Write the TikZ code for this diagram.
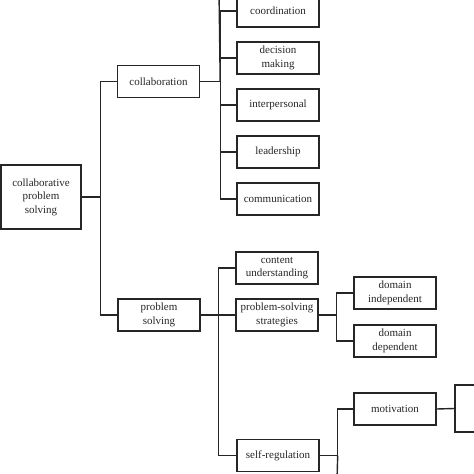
\documentclass[tikz,border=0pt]{standalone}
\usepackage{fontspec}
\setmainfont{Liberation Serif}
\usetikzlibrary{positioning}
\definecolor{inkgray}{HTML}{262626}
\tikzset{
  box/.style={draw=inkgray, line width=1.4pt, minimum width=82pt, minimum height=32pt,
    inner sep=1pt, align=center, text=inkgray, font=\fontsize{11}{13.5}\selectfont},
  link/.style={draw=inkgray, line width=1.4pt},
}

\begin{document}
\begin{tikzpicture}[x=1pt,y=-1pt]
\useasboundingbox (0,0) rectangle (474,474);

% ===== Root =====
\node[box, minimum width=80pt, minimum height=64pt] (cps) at (41,197) {collaborative\\problem\\solving};

% ===== Level 1 =====
\node[box] (collab) at (158.5,81.5) {collaboration};
\node[box] (probsolv) at (159,315) {problem\\solving};

\coordinate (busA) at ([xshift=19pt]cps.east);
\draw[link] (cps.east) -- (busA);
\draw[link] (busA) |- (collab.west);
\draw[link] (busA) |- (probsolv.west);

% ===== Collaboration branch =====
\foreach \name/\y/\txt in {coord/11/coordination, decis/58/{decision\\making},
    inter/105/interpersonal, lead/152/leadership, comm/199/communication}
  \node[box] (\name) at (278,\y) {\txt};

\coordinate (busB) at ([xshift=20pt]collab.east);
\coordinate (busBtop) at (219,-10);
\draw[link] (collab.east) -- (busB);
\draw[link] (busB) -- (busBtop);
\foreach \name in {coord,decis,inter,lead,comm}
  \draw[link] (busB) |- (\name.west);

% ===== Problem solving branch =====
\node[box] (content) at (277,268) {content\\understanding};
\node[box] (pss) at (277,315) {problem-solving\\strategies};
\node[box] (selfreg) at (278,455.5) {self-regulation};

\coordinate (busC) at ([xshift=18pt]probsolv.east);
\draw[link] (probsolv.east) -- (pss.west);
\foreach \name in {content,selfreg}
  \draw[link] (busC) |- (\name.west);

% Strategies
\node[box] (domind) at (395,293) {domain\\independent};
\node[box] (domdep) at (395,341) {domain\\dependent};

\coordinate (busD) at ([xshift=18pt]pss.east);
\draw[link] (pss.east) -- (busD);
\draw[link] (busD) |- (domind.west);
\draw[link] (busD) |- (domdep.west);

% Self-regulation
\node[box] (motiv) at (395,409) {motivation};
\node[box, minimum height=47pt] (nextbox) at (496,408.5) {};

\coordinate (busE) at ([xshift=18pt]selfreg.east);
\coordinate (busEbot) at (337,480);
\draw[link] (selfreg.east) -- (busE);
\draw[link] (busE) -- (busEbot);
\draw[link] (busE) |- (motiv.west);
\draw[link] (motiv.east) -- (nextbox.west);

\end{tikzpicture}
\end{document}
